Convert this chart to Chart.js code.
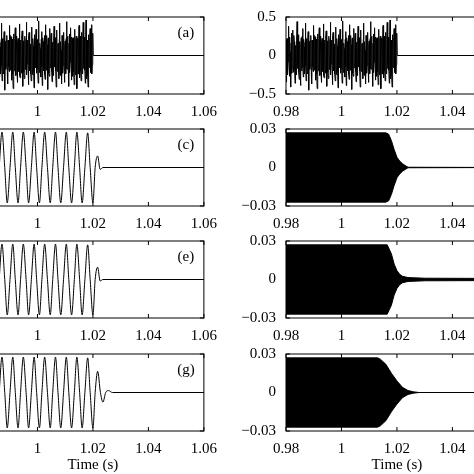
<!DOCTYPE html>
<html>
<head>
<meta charset="UTF-8" />
<script src="https://cdn.jsdelivr.net/npm/chart.js"></script>
<style>
  body { margin: 0; background: #fff; overflow: hidden; width: 474px; height: 474px; position: relative; }
  .p { position: absolute; }
</style>
</head>
<body>
<div class="p" style="left:-68px;top:6px;width:286px;height:110px"><canvas id="ca"></canvas></div>
<div class="p" style="left:236px;top:6px;width:286px;height:110px"><canvas id="cb"></canvas></div>
<div class="p" style="left:-68px;top:118px;width:286px;height:110px"><canvas id="cc"></canvas></div>
<div class="p" style="left:236px;top:118px;width:286px;height:110px"><canvas id="cd"></canvas></div>
<div class="p" style="left:-68px;top:230px;width:286px;height:110px"><canvas id="ce"></canvas></div>
<div class="p" style="left:236px;top:230px;width:286px;height:110px"><canvas id="cf"></canvas></div>
<div class="p" style="left:-68px;top:343px;width:286px;height:131px"><canvas id="cg"></canvas></div>
<div class="p" style="left:236px;top:343px;width:286px;height:131px"><canvas id="ch"></canvas></div>
<script>
// noise input: peaks (A) on a 0.25 ms grid, core samples (B) half a step later
const noiseStart = 0.98, noiseStep = 0.00025, noiseEnd = 1.02;
const noiseA = [0.21,-0.34,0.12,-0.08,0.38,-0.27,0.05,-0.41,0.29,-0.15,0.33,-0.22,0.18,-0.36,0.09,-0.25,0.44,-0.12,0.27,-0.31,0.14,-0.39,0.23,-0.06,0.35,-0.28,0.11,-0.19,0.42,-0.33,0.07,-0.24,0.31,-0.45,0.19,-0.13,0.26,-0.37,0.16,-0.21,
  0.39,-0.09,0.24,-0.32,0.13,-0.43,0.28,-0.17,0.36,-0.26,0.08,-0.35,0.22,-0.14,0.41,-0.29,0.17,-0.23,0.32,-0.4,0.1,-0.3,0.25,-0.18,0.43,-0.11,0.2,-0.38,0.3,-0.2,
  0.15,-0.33,0.37,-0.25,0.12,-0.42,0.27,-0.16,0.34,-0.07,0.21,-0.36,0.45,-0.22,0.09,-0.28,0.31,-0.39,0.18,-0.12,0.26,-0.31,0.4,-0.19,0.14,-0.44,0.23,-0.27,0.35,-0.1,
  0.29,-0.34,0.11,-0.24,0.38,-0.15,0.2,-0.41,0.33,-0.21,0.16,-0.3,0.42,-0.26,0.07,-0.37,0.24,-0.13,0.3,-0.35,0.19,-0.23,0.44,-0.18,0.13,-0.4,0.28,-0.09,0.36,-0.32,
  0.22,-0.27,0.1,-0.38,0.34,-0.2,0.25,-0.43,0.17,-0.14,0.39,-0.29,0.12,-0.33,0.3,-0.24,0.43,-0.11,0.21,-0.36,0.46,-0.3,0.18,-0.41,0.27,-0.16,0.35,-0.22,0.4,-0.12,0.29,-0.37,0.44];
const noiseB = [-0.18,0.22,-0.25,0.19,-0.12,0.24,-0.2,0.16,-0.23,0.21,-0.15,0.26,-0.19,0.13,-0.24,0.2,-0.17,0.23,-0.22,0.18,-0.26,0.14,-0.2,0.25,-0.16,0.21,-0.24,0.17,-0.13,0.22,-0.21,0.19,-0.25,0.15,-0.18,0.24,-0.22,0.2,-0.14,0.23,
  -0.19,0.26,-0.17,0.21,-0.24,0.16,-0.2,0.22,-0.15,0.25,-0.23,0.18,-0.21,0.14,-0.26,0.2,-0.18,0.24,-0.16,0.19,-0.22,0.23,-0.13,0.21,-0.25,0.17,-0.19,0.26,-0.2,0.15,
  -0.24,0.18,-0.16,0.22,-0.21,0.25,-0.14,0.2,-0.23,0.19,-0.18,0.24,-0.22,0.16,-0.25,0.21,-0.15,0.23,-0.2,0.18,-0.24,0.14,-0.19,0.26,-0.17,0.22,-0.23,0.2,-0.16,0.25,
  -0.21,0.17,-0.26,0.19,-0.14,0.23,-0.2,0.24,-0.18,0.15,-0.22,0.21,-0.25,0.18,-0.16,0.26,-0.23,0.2,-0.19,0.14,-0.24,0.22,-0.17,0.25,-0.2,0.16,-0.22,0.19,-0.15,0.24,
  -0.18,0.23,-0.21,0.17,-0.25,0.2,-0.16,0.22,-0.24,0.19,-0.13,0.25,-0.2,0.18,-0.23,0.21,-0.17,0.24,-0.19,0.16,-0.22,0.2,-0.25,0.18,-0.15,0.23,-0.21,0.19,-0.24,0.17,-0.2];

// low-frequency oscillation (peaks, zero crossings, troughs)
const oscT = [0.9795,0.9804,0.9814,0.9824,0.9833,0.9843,0.9853,0.9862,0.9872,0.9882,0.9891,0.9901,0.9911,0.9920,0.9930,0.9939,
  0.9949,0.9959,0.9968,0.9978,0.9988,0.9997,1.0007,1.0016,1.0026,1.0036,1.0046,1.0055,1.0065,1.0074,1.0084,1.0094,
  1.0104,1.0113,1.0123,1.0133,1.0142,1.0152,1.0161,1.0171,1.0181,1.0190,1.0200];
const oscV = [0.92,0,-0.92,0,0.92,0,-0.92,0,0.92,0,-0.92,0,0.92,0,-0.92,0,
  0.92,0,-0.92,0,0.92,0,-0.92,0,0.92,0,-0.92,0,0.92,0,-0.92,0,
  0.92,0,-0.92,0,0.92,0,-0.92,0,0.9,0,-0.92];
const tailCT = [1.0208,1.0217,1.0226,1.0236,1.06], tailCV = [0,0.3,-0.05,0,0];
const tailET = [1.0208,1.0217,1.0226,1.0236,1.06], tailEV = [0,0.32,-0.04,0,0];
const tailGT = [1.0208,1.0217,1.0227,1.0236,1.0246,1.0256,1.0270,1.06], tailGV = [0,0.55,0,-0.25,0,0.05,0,0];

// envelopes of the high-frequency responses
const envDT = [0.98,1.016,1.017,1.018,1.019,1.020,1.021,1.022,1.023,1.024,1.06];
const envDV = [0.027,0.027,0.026,0.021,0.014,0.008,0.005,0.003,0.0015,0.0002,0];
const envFT = [0.98,1.0165,1.018,1.019,1.020,1.021,1.022,1.024,1.03,1.06];
const envFV = [0.027,0.027,0.02,0.012,0.007,0.004,0.0025,0.0015,0.001,0.0008];
const envHT = [0.98,1.013,1.014,1.016,1.018,1.020,1.022,1.024,1.026,1.028,1.06];
const envHV = [0.027,0.027,0.026,0.022,0.015,0.009,0.004,0.0015,0.0005,0,0];

const xTicks = [0.98,1,1.02,1.04,1.06];
const yTicksA = [-0.5,0,0.5];
const yTicksR = [-0.03,0,0.03];

const FONT = "'Liberation Serif', 'DejaVu Serif', serif";

function pts(ts, vs) { return ts.map((t, i) => ({ x: t, y: vs[i] })); }
function fmt(v) {
  let s = (Math.round(v * 1000) / 1000).toString();
  return s.replace('-', '\u2212');
}

const frame = {
  id: 'frame',
  afterDraw(chart) {
    const { ctx, chartArea: a, scales } = chart;
    ctx.save();
    ctx.strokeStyle = '#000';
    ctx.lineWidth = 1;
    ctx.strokeRect(a.left, a.top, a.right - a.left, a.bottom - a.top);
    ctx.beginPath();
    xTicks.forEach(v => {
      const x = scales.x.getPixelForValue(v);
      ctx.moveTo(x, a.bottom); ctx.lineTo(x, a.bottom - 4);
      ctx.moveTo(x, a.top); ctx.lineTo(x, a.top + 4);
    });
    scales.y.ticks.forEach(t => {
      const y = scales.y.getPixelForValue(t.value);
      ctx.moveTo(a.left, y); ctx.lineTo(a.left + 4, y);
      ctx.moveTo(a.right, y); ctx.lineTo(a.right - 4, y);
    });
    ctx.stroke();
    const lab = chart.options.plugins.frame.label;
    if (lab) {
      ctx.fillStyle = '#000';
      ctx.font = '15px ' + FONT;
      ctx.textAlign = 'center';
      ctx.fillText(lab, a.right - 18, a.top + 20);
    }
    ctx.restore();
  }
};

function panel(id, datasets, yMin, yMax, yTicks, label, last) {
  new Chart(document.getElementById(id), {
    type: 'line',
    data: { datasets },
    plugins: [frame],
    options: {
      animation: false,
      responsive: true,
      maintainAspectRatio: false,
      layout: { padding: { top: 4, right: 8, left: 0, bottom: 0 } },
      plugins: { legend: { display: false }, tooltip: { enabled: false }, frame: { label } },
      elements: { point: { radius: 0 }, line: { borderWidth: 1, borderColor: '#000' } },
      scales: {
        x: {
          type: 'linear', min: 0.98, max: 1.06,
          afterBuildTicks: s => { s.ticks = xTicks.map(v => ({ value: v })); },
          afterFit: s => { s.height = last ? 43 : 22; },
          grid: { display: false }, border: { display: false },
          ticks: { color: '#000', font: { family: FONT, size: 15 }, padding: 1, maxRotation: 0, callback: v => fmt(v) },
          title: { display: last, text: 'Time (s)', color: '#000', font: { family: FONT, size: 15 }, padding: 0 }
        },
        y: {
          min: yMin, max: yMax,
          afterBuildTicks: s => { s.ticks = yTicks.map(v => ({ value: v })); },
          afterFit: s => { s.width = 50; },
          grid: { display: false }, border: { display: false },
          ticks: { color: '#000', font: { family: FONT, size: 15 }, padding: 2, callback: v => fmt(v) }
        }
      }
    }
  });
}

function line(data) { return { data, borderColor: '#000', borderWidth: 1, fill: false }; }
function smooth(data) { return { data, borderColor: '#000', borderWidth: 1, fill: false, cubicInterpolationMode: 'monotone' }; }
function env(ts, vs) {
  return [
    { data: pts(ts, vs), borderColor: '#000', borderWidth: 1, backgroundColor: '#000', fill: '+1' },
    { data: pts(ts, vs.map(v => -v)), borderColor: '#000', borderWidth: 1, fill: false }
  ];
}

const noise = [];
noiseA.forEach((v, i) => {
  const t = noiseStart + i * noiseStep;
  if (t <= noiseEnd + 1e-9) noise.push({ x: t, y: v });
  if (i < noiseB.length && t + noiseStep / 2 < noiseEnd) noise.push({ x: t + noiseStep / 2, y: noiseB[i] });
});
noise.push({ x: 1.0201, y: 0 }, { x: 1.06, y: 0 });

panel('ca', [line(noise)], -0.5, 0.5, yTicksA, '(a)', false);
panel('cb', [line(noise)], -0.5, 0.5, yTicksA, '(b)', false);
panel('cc', [smooth(pts(oscT.concat(tailCT), oscV.concat(tailCV)))], -1, 1, [-1, 0, 1], '(c)', false);
panel('cd', env(envDT, envDV), -0.03, 0.03, yTicksR, '(d)', false);
panel('ce', [smooth(pts(oscT.concat(tailET), oscV.concat(tailEV)))], -1, 1, [-1, 0, 1], '(e)', false);
panel('cf', env(envFT, envFV), -0.03, 0.03, yTicksR, '(f)', false);
panel('cg', [smooth(pts(oscT.concat(tailGT), oscV.concat(tailGV)))], -1, 1, [-1, 0, 1], '(g)', true);
panel('ch', env(envHT, envHV), -0.03, 0.03, yTicksR, '(h)', true);
</script>
</body>
</html>
